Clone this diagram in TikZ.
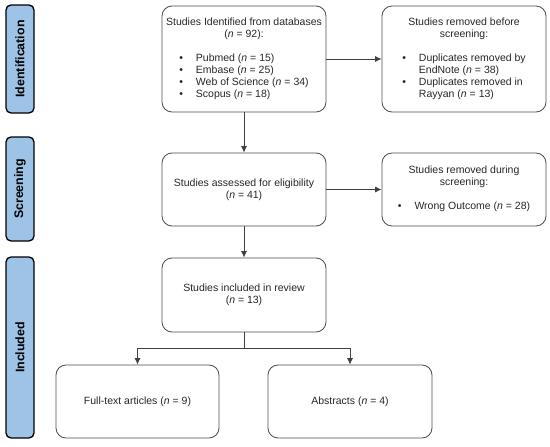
\documentclass[tikz,border=0pt]{standalone}
\usepackage{fontspec}
\setmainfont{Liberation Sans}
\usetikzlibrary{arrows.meta}
\definecolor{phaseblue}{RGB}{157,195,230}

\begin{document}
\begin{tikzpicture}[x=1pt, y=-1pt]
\useasboundingbox (0,0) rectangle (550,447);

\coordinate (P1) at (20, 59);
\coordinate (P2) at (20, 189);
\coordinate (P3) at (20, 347.5);
\coordinate (B1_1) at (244, 59);
\coordinate (B1_2) at (464, 59);
\coordinate (B2_1) at (244, 189.5);
\coordinate (B2_2) at (464, 189.5);
\coordinate (B3_1) at (244, 295);
\coordinate (B4_1) at (137.5, 401.5);
\coordinate (B4_2) at (350, 401.5);
\coordinate (Split) at (244, 348);


\tikzset{PhaseStyle/.style = {
 draw = black,
 line width = 1.3pt,
 fill = phaseblue,
 rounded corners = 5pt,
 rotate = 90,
 minimum height = 28pt,
 inner sep = 0pt,
 font = \fontsize{12.4}{14}\selectfont\bfseries} }

\node[PhaseStyle, minimum width=108pt] (Ident) at (P1) {Identification};
\node[PhaseStyle, minimum width=104pt] (Screen) at (P2) {Screening};
\node[PhaseStyle, minimum width=181pt] (Incl) at (P3) {Included};


\tikzset{BoxStyle/.style = {
 draw = black!70,
 line width = 0.8pt,
 rounded corners = 10pt,
 text = black!85,
 align = center,
 inner sep = 0pt,
 minimum width = 164pt,
 font = \fontsize{10.5}{12}\selectfont} }

\newcommand{\bulletlist}[1]{\begin{tabular}[t]{@{}l@{\hspace{13pt}}l@{}}#1\end{tabular}}

\node[BoxStyle, minimum height=106pt] (Found) at (B1_1)
 {Studies Identified from databases\\(\textit{n} = 92):\\[12pt]
 \bulletlist{\textbullet & Pubmed (\textit{n} = 15)\\
 \textbullet & Embase (\textit{n} = 25)\\
 \textbullet & Web of Science (\textit{n} = 34)\\
 \textbullet & Scopus (\textit{n} = 18)}};
\node[BoxStyle, minimum height=106pt] (Dup) at (B1_2)
 {Studies removed before\\screening:\\[12pt]
 \bulletlist{\textbullet & Duplicates removed by\\
 & EndNote (\textit{n} = 38)\\
 \textbullet & Duplicates removed in\\
 & Rayyan (\textit{n} = 13)}};
\node[BoxStyle, minimum height=73pt] (Assess) at (B2_1)
 {Studies assessed for eligibility\\(\textit{n} = 41)};
\node[BoxStyle, minimum height=73pt] (Excl) at (B2_2)
 {Studies removed during\\screening:\\[12pt]
 \bulletlist{\textbullet & Wrong Outcome (\textit{n} = 28)}};
\node[BoxStyle, minimum height=74pt] (Review) at (B3_1)
 {Studies included in review\\(\textit{n} = 13)};
\node[BoxStyle, minimum width=163pt, minimum height=73pt] (Full) at (B4_1)
 {Full-text articles (\textit{n} = 9)};
\node[BoxStyle, minimum height=73pt] (Abstr) at (B4_2)
 {Abstracts (\textit{n} = 4)};


\tikzset{ArrowStyle/.style = {draw = black!75, line width = 0.8pt, -{Latex[length=6.5pt, width=6pt]}} }

\draw[ArrowStyle] (Found) -- (Dup);
\draw[ArrowStyle] (Found) -- (Assess);
\draw[ArrowStyle] (Assess) -- (Excl);
\draw[ArrowStyle] (Assess) -- (Review);
\draw[draw=black!75, line width=0.8pt] (Review) -- (Split);
\draw[ArrowStyle] (Split) -| (Full);
\draw[ArrowStyle] (Split) -| (Abstr);

\end{tikzpicture}
\end{document}
